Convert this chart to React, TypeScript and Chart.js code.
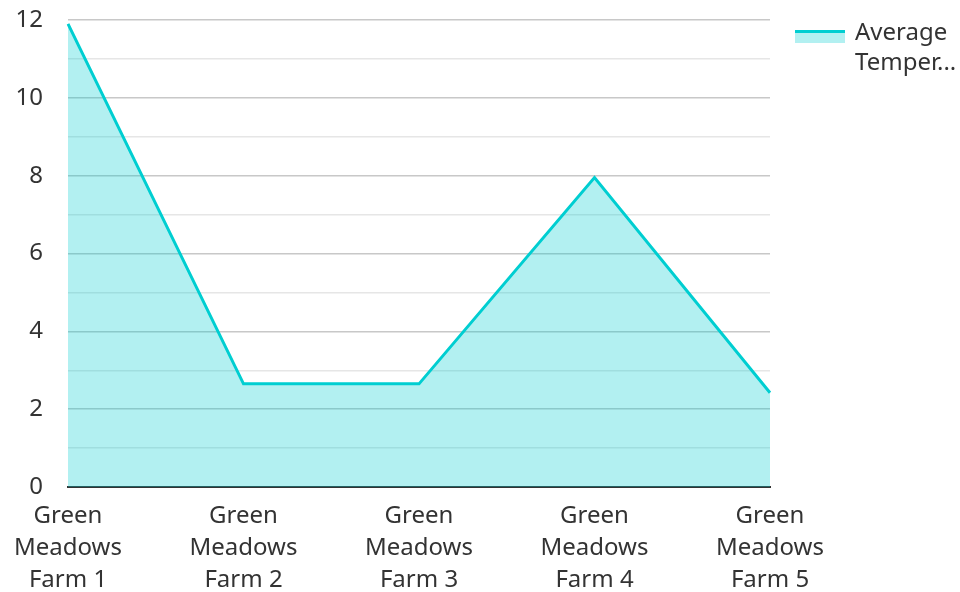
import React, { useEffect, useRef } from "react";
import { Chart, registerables } from "chart.js";

Chart.register(...registerables);

const categories: string[][] = [
  ["Green", "Meadows", "Farm 1"],
  ["Green", "Meadows", "Farm 2"],
  ["Green", "Meadows", "Farm 3"],
  ["Green", "Meadows", "Farm 4"],
  ["Green", "Meadows", "Farm 5"],
];
const avgTemperature: number[] = [11.9, 2.65, 2.65, 7.95, 2.42];
const seriesName = "Average Temperature";
const legendLines: string[] = ["Average", "Temper..."];

const LINE_COLOR = "#00CED1";
const FILL_COLOR = "rgba(0,206,209,0.3)";
const TEXT_COLOR = "#333333";
const FONT = "'Noto Sans', 'Open Sans', sans-serif";

export default function App() {
  const canvasRef = useRef<HTMLCanvasElement | null>(null);

  useEffect(() => {
    document.body.style.margin = "0";
    const canvas = canvasRef.current;
    if (!canvas) return;
    const chart = new Chart(canvas, {
      type: "line",
      data: {
        labels: categories,
        datasets: [
          {
            label: seriesName,
            data: avgTemperature,
            borderColor: LINE_COLOR,
            backgroundColor: FILL_COLOR,
            borderWidth: 3,
            fill: "origin",
            tension: 0,
            pointRadius: 0,
            pointHoverRadius: 0,
          },
        ],
      },
      options: {
        responsive: false,
        animation: false,
        maintainAspectRatio: false,
        layout: { padding: { left: 0, right: 190, top: 20, bottom: 0 } },
        plugins: {
          legend: { display: false },
          tooltip: { enabled: false },
        },
        scales: {
          x: {
            offset: false,
            z: 1,
            afterFit: (scale: any) => {
              scale.height = 105;
              scale.paddingLeft = 0;
              scale.paddingRight = 0;
            },
            grid: { display: false, drawTicks: false },
            border: { display: true, color: "#333333", width: 2 },
            ticks: {
              color: TEXT_COLOR,
              font: { family: FONT, size: 24, lineHeight: 32 / 24 },
              padding: 13,
              maxRotation: 0,
              autoSkip: false,
            },
          },
          y: {
            min: 0,
            max: 12,
            afterFit: (scale: any) => {
              scale.width = 68;
              scale.paddingTop = 0;
              scale.paddingBottom = 0;
            },
            grid: {
              drawTicks: false,
              color: (ctx: any) =>
                ctx.tick && ctx.tick.value % 2 === 0 ? "#c8c8c8" : "#e6e6e6",
              lineWidth: 1.5,
            },
            border: { display: false },
            ticks: {
              stepSize: 1,
              color: TEXT_COLOR,
              font: { family: FONT, size: 24 },
              padding: 25,
              callback: (v: any) => (Number(v) % 2 === 0 ? String(v) : ""),
            },
          },
        },
      },
    });
    return () => chart.destroy();
  }, []);

  return (
    <div style={{ position: "absolute", left: 0, top: 0, width: 960, height: 592, background: "#fff" }}>
      <canvas ref={canvasRef} width={960} height={592} style={{ position: "absolute", left: 0, top: 0 }} />
      <div style={{ position: "absolute", left: 795, top: 30, width: 50, height: 10, borderTop: `3px solid ${LINE_COLOR}`, background: FILL_COLOR }} />
      <div
        style={{
          position: "absolute",
          left: 855,
          top: 16,
          fontFamily: FONT,
          fontSize: 24,
          lineHeight: "30px",
          color: TEXT_COLOR,
          whiteSpace: "nowrap",
        }}
      >
        {legendLines.map((t, i) => (
          <div key={i}>{t}</div>
        ))}
      </div>
    </div>
  );
}
